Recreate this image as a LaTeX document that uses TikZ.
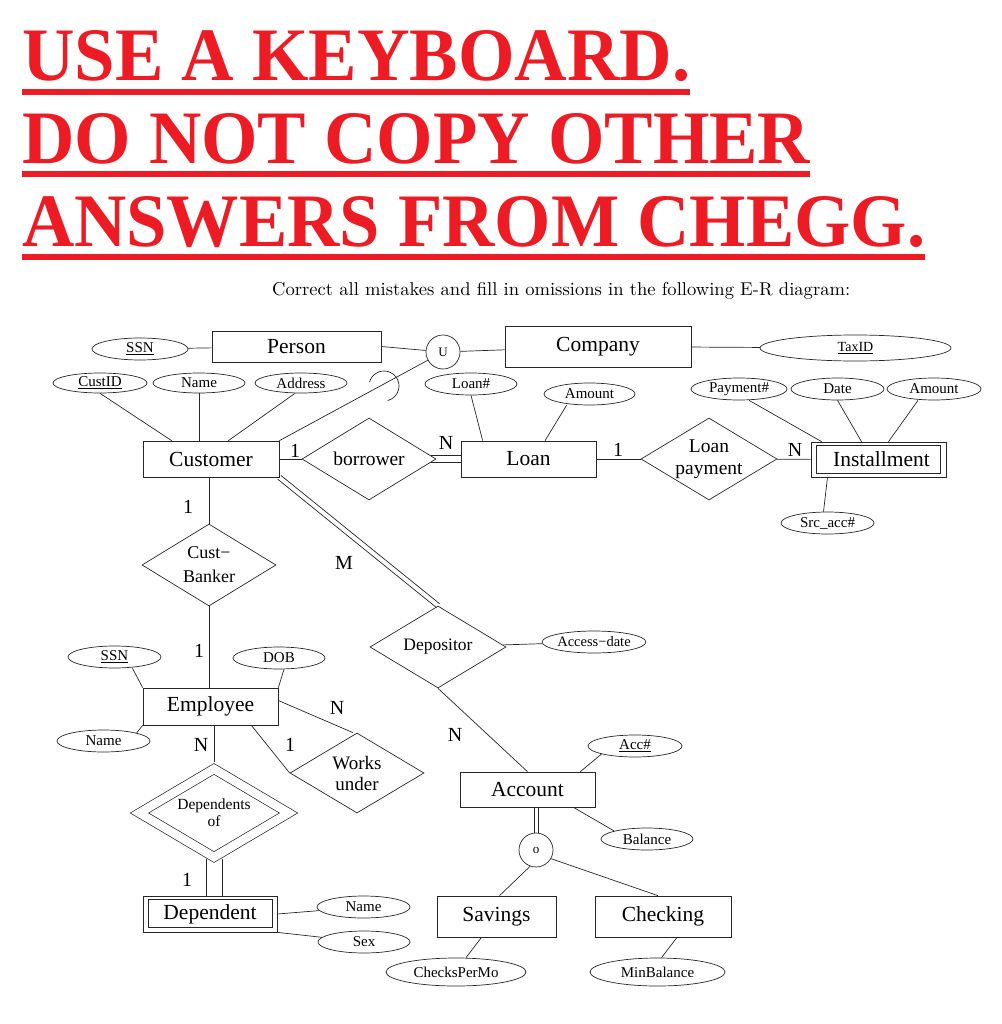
\documentclass[tikz,border=0pt]{standalone}
\usepackage{fontspec}
\usepackage{graphicx}
\usetikzlibrary{shapes.geometric}
\newfontfamily\erfont{Liberation Serif}
\newfontfamily\redfont{Liberation Serif}
\definecolor{cheggred}{HTML}{ED1C24}
\tikzset{
  conn/.style={draw=black!85,line width=0.7pt},
  ent/.style={draw=black!85,line width=0.7pt,rectangle,minimum width=135pt,minimum height=36pt,inner sep=2pt,font=\erfont\fontsize{21.5}{24}\selectfont},
  attr/.style={draw=black!85,line width=0.7pt,ellipse,minimum width=93pt,minimum height=22pt,inner sep=0pt,font=\erfont\fontsize{15}{17}\selectfont},
  rel/.style={draw=black!85,line width=0.7pt,diamond,aspect=1.65,minimum width=134pt,minimum height=82pt,inner sep=0pt,align=center,font=\erfont\fontsize{19.5}{22}\selectfont},
  isa/.style={draw=black!85,line width=0.7pt,circle,minimum size=34pt,inner sep=0pt,font=\erfont\fontsize{13}{15}\selectfont},
  card/.style={inner sep=0pt,font=\erfont\fontsize{20}{22}\selectfont},
  warn/.style={anchor=base west,inner sep=0pt,text=cheggred}
}
\begin{document}
\begin{tikzpicture}[x=1pt,y=-1pt]
\useasboundingbox (0,0) rectangle (1001,1024);
% banner
\node(warn1) at (22,81)[warn]{\resizebox{668pt}{50pt}{\redfont\bfseries\fontsize{75}{80}\selectfont USE A KEYBOARD.}};
\node(warn2) at (22,164)[warn]{\resizebox{788pt}{50pt}{\redfont\bfseries\fontsize{75}{80}\selectfont DO NOT COPY OTHER}};
\node(warn3) at (22,246)[warn]{\resizebox{903pt}{50pt}{\redfont\bfseries\fontsize{75}{80}\selectfont ANSWERS FROM CHEGG.}};
\fill[cheggred] (22,89) rectangle (690,95);
\fill[cheggred] (22,171) rectangle (810,177);
\fill[cheggred] (22,254) rectangle (925,260);
\node(title) at (272,295)[anchor=base west,inner sep=0pt]{\resizebox{578pt}{!}{Correct all mistakes and fill in omissions in the following E-R diagram:}};

% person / company
\node(person) at (296.5,346.5)[ent,minimum width=169pt,minimum height=31pt]{Person};
\node(ssnp) at (140,349)[attr,minimum width=96pt]{\underline{SSN}};
\node(unionu) at (443,352)[isa]{U};
\node(company) at (598,346.5)[ent,minimum width=186pt,minimum height=41pt]{Company};
\node(taxid) at (855.5,348)[attr,minimum width=191pt,minimum height=26pt,font=\erfont\fontsize{14}{16}\selectfont]{\underline{TaxID}};
\coordinate(subset) at (384,386);

% customer and loan
\node(cust) at (211,459)[ent,minimum width=136pt]{Customer};
\node(custid) at (100,383)[attr,minimum width=94pt,minimum height=20pt]{\underline{CustID}};
\node(cname) at (199,383)[attr,minimum width=92pt,minimum height=20pt]{Name};
\node(address) at (301,383)[attr,minimum width=92pt,minimum height=20pt]{Address};
\node(borrower) at (369,459)[rel]{borrower};
\node(loan) at (528.5,459)[ent]{Loan};
\node(loanno) at (471,384)[attr,minimum width=92pt]{Loan\#};
\node(lamount) at (589.5,394)[attr,minimum width=91pt]{Amount};
\node(loanpay) at (709,459)[rel,minimum width=136pt]{Loan\\payment};
\node(install) at (878.5,459.5)[ent,minimum height=35pt]{\hspace*{6pt}Installment};
\node(payno) at (739,389)[attr,minimum width=96pt]{Payment\#};
\node(idate) at (837.5,389)[attr]{Date};
\node(iamount) at (934,389)[attr,minimum width=94pt]{Amount};
\node(srcacc) at (827.5,523)[attr]{Src\_acc\#};

% depositor and account
\node(custb) at (209,565)[rel,font=\erfont\fontsize{18}{24}\selectfont]{Cust−\\Banker};
\node(depos) at (438,647)[rel,minimum width=136pt,font=\erfont\fontsize{17.5}{20}\selectfont]{Depositor};
\node(accdate) at (594,642)[attr,font=\erfont\fontsize{14.5}{16}\selectfont]{Access−date};
\node(account) at (527.5,789.5)[ent,minimum height=35pt]{Account};
\node(accno) at (635,746)[attr,minimum width=94pt]{\underline{Acc\#}};
\node(balance) at (647,839)[attr,minimum width=92pt]{Balance};
\node(ocirc) at (536,850)[isa]{o};
\node(savings) at (496.5,916.5)[ent,minimum width=119pt,minimum height=41pt]{Savings};
\node(checking) at (663,916.5)[ent,minimum width=136pt,minimum height=41pt]{Checking};
\node(checks) at (456,972)[attr,minimum width=140pt,minimum height=28pt]{ChecksPerMo};
\node(minbal) at (657.5,972)[attr,minimum width=135pt,minimum height=28pt]{MinBalance};

% employee and dependent
\node(employee) at (210.5,706.5)[ent,minimum height=37pt]{Employee};
\node(essn) at (114.5,657)[attr]{\underline{SSN}};
\node(dob) at (279,658)[attr,minimum width=92pt]{DOB};
\node(ename) at (103.5,741)[attr]{Name};
\node(works) at (357,773)[rel,minimum height=80pt,font=\erfont\fontsize{19}{21}\selectfont]{Works\\under};
\node(depof) at (214,813)[rel,double,double distance=8.5pt,outer sep=4.65pt,minimum width=153pt,minimum height=92pt,font=\erfont\fontsize{15.5}{17}\selectfont]{Dependents\\of};
\node(dep) at (210,914)[ent,minimum width=134pt,minimum height=36pt]{Dependent};
\node(dname) at (363.5,907)[attr]{Name};
\node(dsex) at (364,942)[attr,minimum width=92pt]{Sex};

% weak entity inner frames
\draw[conn] ([shift={(6pt,-4pt)}]install.north west) rectangle ([shift={(-6pt,4pt)}]install.south east);
\draw[conn] ([shift={(6pt,-4pt)}]dep.north west) rectangle ([shift={(-5pt,5pt)}]dep.south east);

% cardinalities
\node(c1) at (295,451)[card]{1};
\node(c2) at (446,443)[card]{N};
\node(c3) at (618,450)[card]{1};
\node(c4) at (795,450)[card]{N};
\node(c5) at (188,507)[card]{1};
\node(c6) at (344,563)[card]{M};
\node(c7) at (199,651)[card]{1};
\node(c8) at (337,708)[card]{N};
\node(c9) at (290,745)[card]{1};
\node(c10) at (201,745)[card]{N};
\node(c11) at (455,735)[card]{N};
\node(c12) at (187,880)[card]{1};

\path [every edge/.style=conn]
  (ssnp)       edge (person)
  (person.east) edge (unionu)
  (unionu)     edge (company)
  (company)    edge (taxid)
  (unionu)     edge (cust.north east)
  (custid.south) edge ([xshift=29pt]cust.north west)
  (cname)      edge (cname.south |- cust.north)
  ([xshift=-6pt]address.south) edge ([xshift=-51pt]cust.north east)
  (cust)       edge (borrower)
  (loanno.south) edge ([xshift=22pt]loan.north west)
  ([xshift=-23pt]lamount.south) edge ([xshift=16.5pt]loan.north)
  (loan)       edge (loanpay)
  (loanpay)    edge (install)
  ([xshift=10pt]payno.south) edge ([xshift=11pt]install.north west)
  (idate.south) edge ([xshift=-17pt]install.north)
  ([xshift=-16pt]iamount.south) edge ([xshift=10pt]install.north)
  ([xshift=-51pt]install.south) edge ([xshift=-4pt]srcacc.north)
  (custb.north |- cust.south) edge (custb)
  (custb)      edge (custb.south |- employee.north)
  (depos)      edge (accdate)
  (depos.south) edge (account.north)
  (accno.south west) edge ([xshift=-15pt]account.north east)
  (balance.north west) edge ([xshift=-22pt]account.south east)
  (ocirc.250)  edge ([xshift=3pt]savings.north)
  (ocirc.-30)  edge ([xshift=-5pt]checking.north)
  ([xshift=-15pt]savings.south) edge ([xshift=10pt]checks.north)
  ([xshift=14pt]checking.south) edge ([xshift=4pt]minbal.north)
  ([xshift=18pt]essn.south) edge (employee.north west)
  ([xshift=5pt]dob.south) edge (employee.north east)
  (ename.north east) edge (employee.south west)
  ([yshift=6pt]employee.east) edge ([xshift=-4pt]works.north)
  ([xshift=-27pt]employee.south east) edge (works.west)
  (depof.north |- employee.south) edge (depof.north)
  (dep.east)   edge (dname)
  (dep.south east) edge (dsex);

% total participation (double lines)
\path [every edge/.style=conn]
  (borrower.3)  edge (borrower.3 -| loan.west)
  (borrower.-3) edge (borrower.-3 -| loan.west)
  ([shift={(1.6,-1.9)}]cust.south east) edge ([shift={(1.6,-1.9)}]depos.north)
  ([shift={(-1.6,1.9)}]cust.south east) edge ([shift={(-1.6,1.9)}]depos.north)
  ([xshift=-2pt]ocirc.north |- account.south) edge ([xshift=-2pt]ocirc.north)
  ([xshift=2pt]ocirc.north |- account.south) edge ([xshift=2pt]ocirc.north)
  (depof.-100) edge (depof.-100 |- dep.north)
  (depof.-80)  edge (depof.-80 |- dep.north);

\draw [conn] (subset) ++(165:15pt) arc [start angle=165, end angle=-76, radius=15pt];
\end{tikzpicture}
\end{document}
